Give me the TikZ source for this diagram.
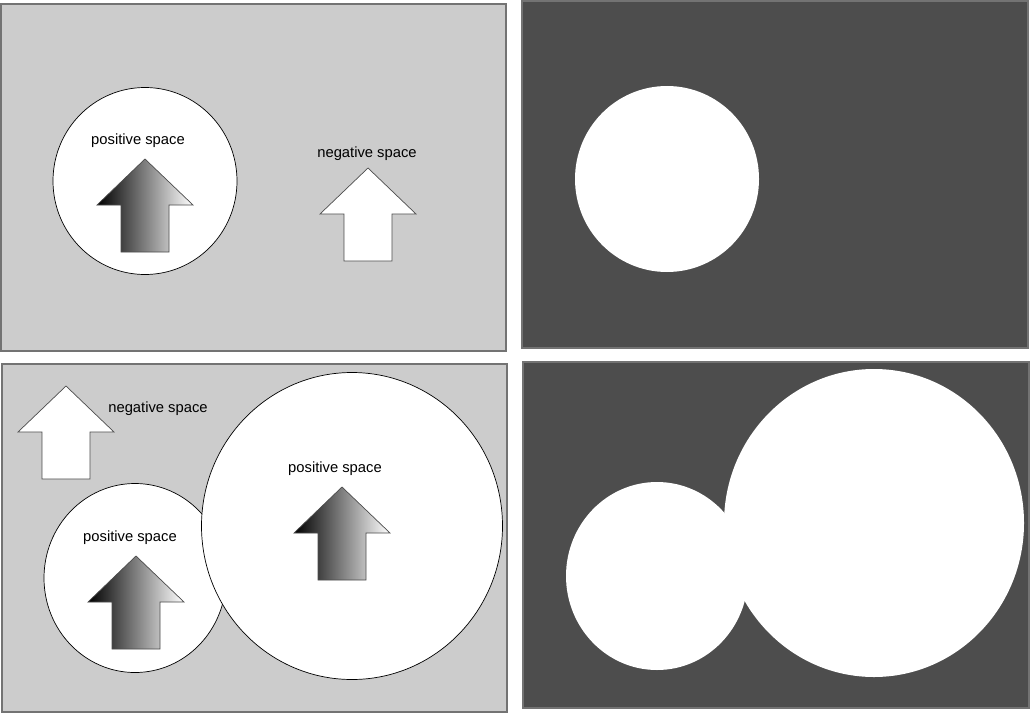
\documentclass[tikz,border=0pt]{standalone}
\usepackage{fontspec}
\setmainfont{Liberation Sans}
\usetikzlibrary{positioning}
\definecolor{lightpanel}{HTML}{CCCCCC}
\definecolor{darkpanel}{HTML}{4D4D4D}
\tikzset{
  panel/.style={draw=black!55,line width=0.6pt},
  disc/.style={fill=white,draw=black,line width=0.4pt},
  hole/.style={fill=white,draw=none},
  spacelabel/.style={font=\fontsize{8.4}{10}\selectfont,text=black,inner sep=0pt},
  posarrow/.style={draw=black!70,line width=0.4pt,left color=black,right color=white},
  negarrow/.style={fill=white,draw=black!70,line width=0.4pt}
}
% arrow given by its tip: style, x, y
\newcommand{\spacearrow}[3]{%
  \draw[#1] (#2,#3) -- ++(48,46) -- ++(-24,0) -- ++(0,47) -- ++(-48,0) -- ++(0,-47) -- ++(-24,0) -- cycle;}

\begin{document}
\begin{tikzpicture}[x=0.02cm,y=-0.02cm]
\useasboundingbox (0,0) rectangle (1030,713);

% top left
\draw[panel,fill=lightpanel] (1,4) rectangle (506,351);
\draw[disc] (145,181) ellipse [x radius=92,y radius=93.5];
\spacearrow{posarrow}{145}{159}
\node[spacelabel] (tlpos) at (138,141) {positive space};
\spacearrow{negarrow}{368}{168}
\node[spacelabel] (tlneg) at (367,154) {negative space};

% top right
\draw[panel,fill=darkpanel] (522,1) rectangle (1028,348);
\fill[hole] (667,179) ellipse [x radius=92,y radius=93];

% bottom left
\draw[panel,fill=lightpanel] (2,364) rectangle (507,712);
\spacearrow{negarrow}{66}{386}
\node[spacelabel] (blneg) at (158,409) {negative space};
\draw[disc] (135,578) ellipse [x radius=91,y radius=94.5];
\spacearrow{posarrow}{136}{556}
\node[spacelabel] (blsmall) at (130,538) {positive space};
\draw[disc] (352,526) ellipse [x radius=150.5,y radius=153.5];
\spacearrow{posarrow}{342}{487}
\node[spacelabel] (blbig) at (335,469) {positive space};

% bottom right
\draw[panel,fill=darkpanel] (523,362) rectangle (1029,708);
\fill[hole] (657,576) ellipse [x radius=91,y radius=94];
\fill[hole] (874,523) ellipse [x radius=150,y radius=154];

\end{tikzpicture}
\end{document}
